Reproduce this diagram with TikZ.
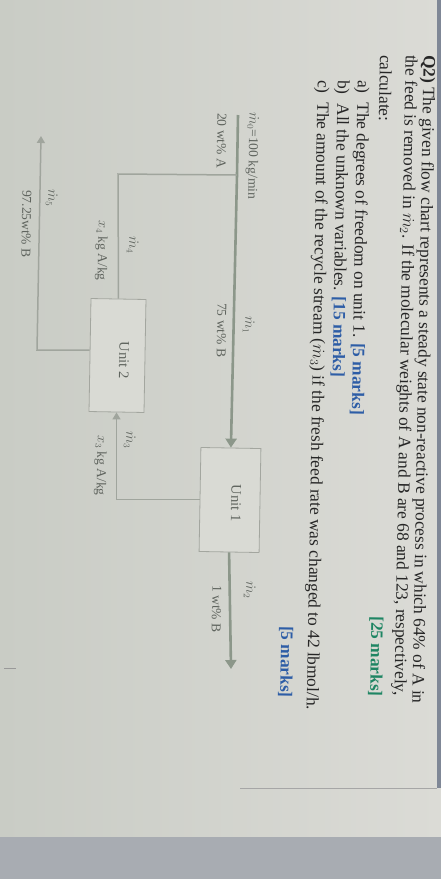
\documentclass[tikz,border=0pt]{standalone}
\usepackage{fontspec}
\setmainfont{Liberation Serif}
\usetikzlibrary{arrows.meta}
\definecolor{ink}{HTML}{262626}
\definecolor{mblue}{HTML}{2D5DA6}
\definecolor{mgreen}{HTML}{1E8563}
\definecolor{lab}{HTML}{5F645E}
\definecolor{flow}{HTML}{8C978A}
\definecolor{flowthin}{HTML}{A0A59D}
\definecolor{boxfill}{HTML}{D9DAD4}
\definecolor{boxline}{HTML}{A3A69F}
\definecolor{bgL}{HTML}{C9CCC5}
\definecolor{bgR}{HTML}{DBDBD6}
\definecolor{bgLow}{HTML}{A8ACB2}
\definecolor{edge}{HTML}{7F8796}
\begin{document}
\begin{tikzpicture}[x=1pt,y=-1pt,
  txt/.style={rotate=-91,anchor=west,inner sep=0pt,font=\fontsize{17.3}{20}\selectfont,text=ink},
  txtend/.style={rotate=-91,anchor=east,inner sep=0pt,font=\fontsize{17.3}{20}\selectfont\bfseries},
  lbl/.style={rotate=-91,anchor=west,inner sep=0pt,font=\fontsize{13.5}{16}\selectfont,text=lab},
  unitlbl/.style={rotate=-91,inner sep=0pt,font=\fontsize{14.5}{16}\selectfont,text=lab},
  unitbox/.style={rotate=-91,draw=boxline,fill=boxfill,line width=0.8pt,inner sep=0pt},
  mainline/.style={draw=flow,line width=2.6pt},
  thinline/.style={draw=flowthin,line width=1.5pt},
  bigtip/.style={-{Triangle[width=11pt,length=9pt]}},
  smalltip/.style={-{Triangle[width=8pt,length=7pt]}}]
\useasboundingbox (0,0) rectangle (441,879);
% background (photo of a screen)
\shade[left color=bgL,right color=bgR] (0,0) rectangle (441,879);
\fill[bgLow] (0,837) rectangle (441,879);
\fill[edge] (437,0) rectangle (441,788);
\draw[draw=gray!70,line width=0.8pt] (240,788) -- (437,788);
\draw[draw=gray!80,line width=0.6pt] (4,668) -- (16,668);

% question text
\node[txt] (l1) at (428,55) {\textbf{Q2)} The given flow chart represents a steady state non-reactive process in which 64\% of A in};
\node[txt] (l2) at (410,55) {the feed is removed in $\dot{m}_2$. If the molecular weights of A and B are 68 and 123, respectively,};
\node[txt] (l3) at (386,55) {calculate:};
\node[txtend,text=mgreen] (l3m) at (375,697) {[25 marks]};
\node[txt] (l4) at (362,80) {a)\hspace{9pt}The degrees of freedom on unit 1. \textcolor{mblue}{\textbf{[5 marks]}}};
\node[txt] (l5) at (342,80) {b)\hspace{9pt}All the unknown variables. \textcolor{mblue}{\textbf{[15 marks]}}};
\node[txt] (l6) at (322,80) {c)\hspace{9pt}The amount of the recycle stream ($\dot{m}_3$) if the fresh feed rate was changed to 42 lbmol/h.};
\node[txtend,text=mblue] (l7) at (285,698) {[5 marks]};

% units
\node[unitbox,minimum width=104pt,minimum height=60pt] (u1) at (230,500) {};
\node[unitbox,minimum width=113pt,minimum height=55pt] (u2) at (117.5,355.5) {};
\node[unitlbl] (u1t) at (236,503) {Unit 1};
\node[unitlbl] (u2t) at (124,360) {Unit 2};

% streams
\coordinate (f0) at (238,115);
\coordinate (j) at (237,175);
\coordinate (c4) at (118,174);
\coordinate (m2e) at (231,669);
\coordinate (c5) at (37,350);
\coordinate (m5e) at (41,136);
\draw[mainline] (f0) -- (j);
\draw[mainline,bigtip] (j) -- (u1.west);
\draw[mainline,bigtip] (u1.east) -- (m2e);
\draw[thinline] (j) -- (c4) -- (u2.west);
\draw[thinline,smalltip] (u1.south) -- (u1.south -| u2.east) -- (u2.east);
\draw[thinline,smalltip] (u2.south |- c5) -- (c5) -- (m5e);

% stream labels
\node[lbl] (t0a) at (253,112) {$\dot{m}_0$=100 kg/min};
\node[lbl] (t0b) at (222,113) {20 wt\% A};
\node[lbl] (t1a) at (249,316) {$\dot{m}_1$};
\node[lbl] (t1b) at (222,303) {75 wt\% B};
\node[lbl] (t2a) at (250,581) {$\dot{m}_2$};
\node[lbl] (t2b) at (217,585) {1 wt\% B};
\node[lbl] (t4a) at (133,236) {$\dot{m}_4$};
\node[lbl] (t4b) at (102,220) {$x_4$ kg A/kg};
\node[lbl] (t3a) at (130,431) {$\dot{m}_3$};
\node[lbl] (t3b) at (101,435) {$x_3$ kg A/kg};
\node[lbl] (t5a) at (52,189) {$\dot{m}_5$};
\node[lbl] (t5b) at (27,190) {97.25wt\% B};
\end{tikzpicture}
\end{document}
